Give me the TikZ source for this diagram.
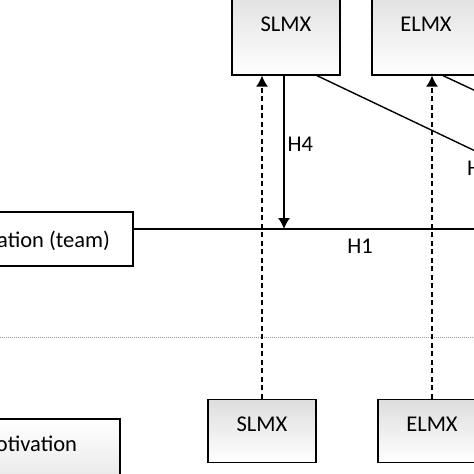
\documentclass[tikz,border=0pt]{standalone}
\usepackage{fontspec}
\setmainfont{Carlito}
\usetikzlibrary{arrows.meta,positioning,calc}

\begin{document}
\begin{tikzpicture}[x=1pt,y=-1pt,font=\fontsize{22.5}{27}\selectfont,
  bx/.style={draw,line width=1.3pt,minimum width=108pt,inner sep=0pt,text depth=13pt},
  lmx/.style={bx,top color=gray!26,bottom color=white},
  link/.style={line width=1.4pt},
  dlink/.style={line width=1.5pt,dash pattern=on 5pt off 3.5pt,-{Latex[length=11pt,width=12pt]}}]
\useasboundingbox (0,0) rectangle (474,474);
% upper panel
\node[lmx,minimum height=89pt] (slmxT) at (286,30.5) {SLMX};
\node[lmx,minimum height=89pt] (elmxT) at (426,30.5) {ELMX};
\node[bx,fill=white,text depth=0pt,minimum height=54pt] (team) at (48,239)
  {\makebox[170pt][r]{ation (team)\hspace{23pt}}};
\coordinate (h1r) at (490,229);
\coordinate (h3r) at (490,158);
\coordinate (h2r) at (490,97.6);
\draw[link] (h1r -| team.east) -- (h1r);
\draw[link,-{Latex[length=11pt,width=12pt]}] ([xshift=-2pt]slmxT.south) -- ([xshift=-2pt]slmxT.south |- h1r)
  node[pos=0.45,anchor=west,inner sep=3pt] (h4) {H4};
\draw[link] ([xshift=31pt]slmxT.south) -- (h3r);
\draw[link] ([xshift=17pt]elmxT.south) -- (h2r);
\node[anchor=west,inner sep=0pt] (h3) at (467,168) {H};
\node (h1) at (360,246) {H1};
% separator
\coordinate (sepL) at (0,337);
\coordinate (sepR) at (474,337);
\draw[gray!80,line width=0.8pt,dash pattern=on 1pt off 1pt] (sepL) -- (sepR);
% lower panel
\node[lmx,minimum height=63pt] (slmxB) at (262,431) {SLMX};
\node[lmx,minimum height=63pt] (elmxB) at (432,431) {ELMX};
\node[bx,top color=white,bottom color=gray!18,minimum height=63pt] (motiv) at (40,450.5)
  {\makebox[160pt][r]{otivation\hspace{43pt}}};
\draw[dlink] (slmxB.north) -- (slmxB.north |- slmxT.south);
\draw[dlink] (elmxB.north) -- (elmxB.north |- elmxT.south);
\end{tikzpicture}
\end{document}
